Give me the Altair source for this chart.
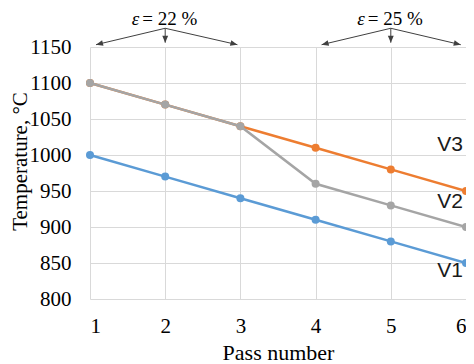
import altair as alt
import pandas as pd

# ---- data ----
passes = [1, 2, 3, 4, 5, 6]
v1 = [1000, 970, 940, 910, 880, 850]
v2 = [1100, 1070, 1040, 960, 930, 900]
v3 = [1100, 1070, 1040, 1010, 980, 950]
y_ticks = [800, 850, 900, 950, 1000, 1050, 1100, 1150]

series_values = {"V1": v1, "V2": v2, "V3": v3}
draw_order = ["V1", "V3", "V2"]
colors = {"V1": "#5b9bd5", "V2": "#a5a5a5", "V3": "#ed7d31"}

label_names = ["V3", "V2", "V1"]
label_x = [6, 6, 6]
label_y = [1005, 927, 830]

# strain annotations (data units)
eps_values = ["= 22 %", "= 25 %"]
eps_x = [2, 5]
eps_y = [1181, 1181]
apex_y = 1176
arrow_from_x = [2, 2, 2, 5, 5, 5]
arrow_to_x = [1.08, 2, 2.96, 4.08, 5, 5.93]
arrow_to_y = [1153.2, 1156, 1153.2, 1153.2, 1156, 1153.2]
arrow_angle = [256, 180, 104, 256, 180, 104]

serif = "Liberation Serif"
sans = "Liberation Sans"

x_enc = alt.X(
    "x:Q",
    scale=alt.Scale(domain=[1, 6], nice=False, zero=False),
    axis=alt.Axis(
        values=passes, format="d", title="Pass number", grid=True, gridColor="#d9d9d9",
        domain=False, ticks=False, tickSize=0, labelFont=serif, labelFontSize=21,
        labelColor="#000000", labelPadding=16, titleFont=serif, titleFontSize=22,
        titleFontWeight="normal", titleColor="#000000", titleBaseline="alphabetic",
        titleY=60,
    ),
)
y_enc = alt.Y(
    "y:Q",
    scale=alt.Scale(domain=[800, 1150], nice=False, zero=False),
    axis=alt.Axis(
        values=y_ticks, format="d", title="Temperature, °C", grid=True, gridColor="#d9d9d9",
        domain=False, ticks=False, tickSize=0, labelFont=serif, labelFontSize=21,
        labelColor="#000000", labelPadding=19, titleFont=serif, titleFontSize=21,
        titleFontWeight="normal", titleColor="#000000", titleAngle=270,
        titleBaseline="middle", titleX=-70, titleY=114,
    ),
)

layers = []
for name in draw_order:
    df = pd.DataFrame({"x": passes, "y": series_values[name]})
    base = alt.Chart(df)
    layers.append(base.mark_line(color=colors[name], strokeWidth=2.5).encode(x=x_enc, y=y_enc))
    layers.append(
        base.mark_circle(color=colors[name], size=64, opacity=1).encode(x=x_enc, y=y_enc)
    )

lab_df = pd.DataFrame({"x": label_x, "y": label_y, "t": label_names})
layers.append(
    alt.Chart(lab_df)
    .mark_text(font=sans, fontSize=21, align="right", baseline="alphabetic", dx=-3, color="#1a1a1a")
    .encode(x=x_enc, y=y_enc, text="t:N")
)

arr_df = pd.DataFrame({
    "x": arrow_from_x, "y": [apex_y] * len(arrow_from_x),
    "x2": arrow_to_x, "y2": arrow_to_y,
})
layers.append(
    alt.Chart(arr_df).mark_rule(color="#404040", strokeWidth=1).encode(
        x=x_enc, y=y_enc, x2="x2:Q", y2="y2:Q"
    )
)
head_df = pd.DataFrame({"x": arrow_to_x, "y": arrow_to_y, "a": arrow_angle})
layers.append(
    alt.Chart(head_df)
    .mark_point(shape="M0,0L-0.42,1L0.42,1Z", filled=True, size=196, color="#404040", opacity=1)
    .encode(x=x_enc, y=y_enc, angle=alt.Angle("a:Q", scale=None))
)

eps_df = pd.DataFrame({"x": eps_x, "y": eps_y, "t": eps_values})
layers.append(
    alt.Chart(eps_df)
    .mark_text(font=serif, fontSize=19, fontStyle="italic", align="right", baseline="alphabetic",
               dx=-26, color="#000000", text="ε")
    .encode(x=x_enc, y=y_enc)
)
layers.append(
    alt.Chart(eps_df)
    .mark_text(font=serif, fontSize=19, align="left", baseline="alphabetic", dx=-23, color="#000000")
    .encode(x=x_enc, y=y_enc, text="t:N")
)

chart = (
    alt.layer(*layers)
    .properties(
        width=376, height=252,
        autosize=alt.AutoSizeParams(type="none"),
        padding={"left": 82, "top": 39, "right": 0, "bottom": 65},
        background="white",
    )
    .configure_view(stroke=None)
    .configure_axis(labelFont=serif, titleFont=serif)
)

chart.save("out.html", embed_options={"renderer": "svg", "actions": False})
